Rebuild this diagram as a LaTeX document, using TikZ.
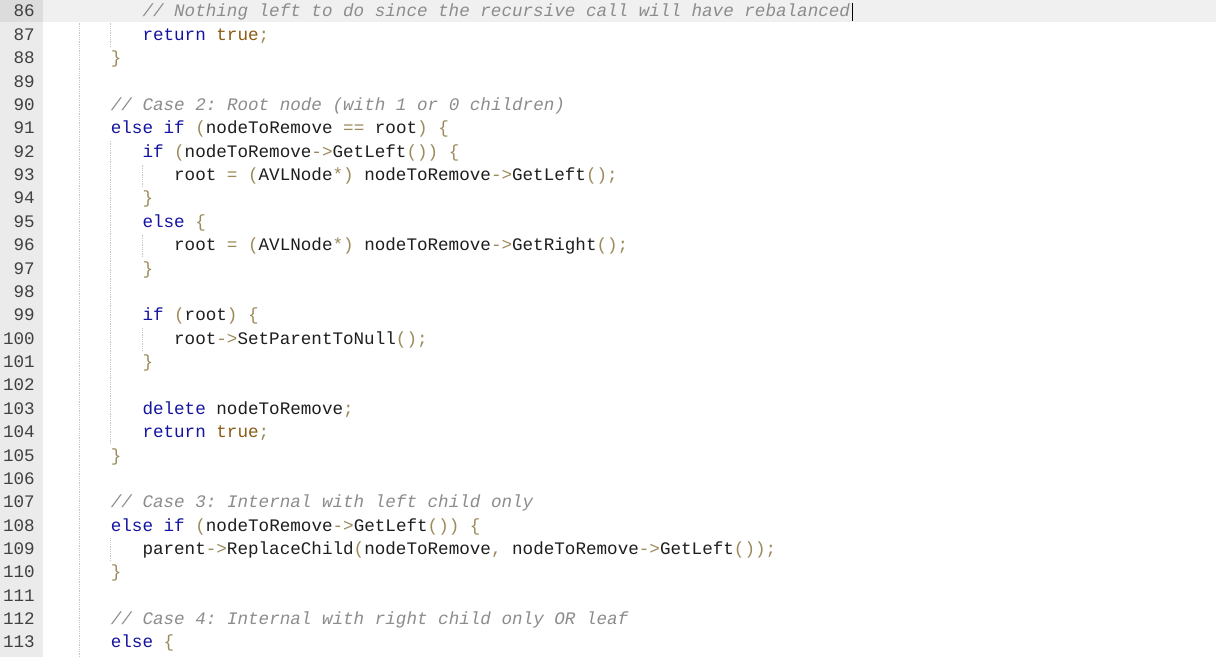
\documentclass[tikz,border=0pt]{standalone}
\usepackage{fontspec}
\newfontfamily\code{Liberation Mono}[WordSpace={1,0,0}]
\frenchspacing
\definecolor{kwc}{HTML}{1414A0}
\definecolor{tvc}{HTML}{8A5C14}
\definecolor{pnc}{HTML}{9C8A5A}
\definecolor{cmc}{HTML}{8C8C8C}
\definecolor{txc}{HTML}{1E1E1E}
\definecolor{gut}{HTML}{EBEBEB}
\definecolor{gutsel}{HTML}{DCDCDC}
\definecolor{linesel}{HTML}{F0F0F0}
\definecolor{guide}{HTML}{C8C8C8}
\newcommand\Kw[1]{\textcolor{kwc}{#1}}
\newcommand\Tv[1]{\textcolor{tvc}{#1}}
\newcommand\Pn[1]{\textcolor{pnc}{#1}}
\newcommand\Cm[1]{\textcolor{cmc}{\itshape #1}}
\tikzset{
  codeline/.style={anchor=base west,inner sep=0pt,font=\code\fontsize{17.6}{20}\selectfont\frenchspacing,text=txc},
  lnum/.style={anchor=base east,inner sep=0pt,font=\code\fontsize{17.6}{20}\selectfont,text=black!75},
  guideline/.style={guide,densely dotted,line width=0.8pt}
}
\newcommand\Y[1]{\fpeval{657-(17+(#1-86)*23.37)}}
\newcommand\Lx[1]{\fpeval{79+#1*31.65}}
\begin{document}
\begin{tikzpicture}[x=1pt,y=1pt]
\useasboundingbox (0,0) rectangle (1216,657);
\fill[white] (0,0) rectangle (1216,657);
\fill[gut] (0,0) rectangle (43,657);
\fill[linesel] (43,635) rectangle (1216,657);
\fill[gutsel] (0,635) rectangle (43,657);
% indent guides
\draw[guideline] (79,0) -- (79,635);
\draw[guideline] (110.6,\fpeval{657-23.37*2}) -- (110.6,635);
\draw[guideline] (110.6,\fpeval{657-23.37*19}) -- (110.6,\fpeval{657-23.37*6});
\draw[guideline] (110.6,\fpeval{657-23.37*24}) -- (110.6,\fpeval{657-23.37*23});
\draw[guideline] (142.3,\fpeval{657-23.37*8}) -- (142.3,\fpeval{657-23.37*7});
\draw[guideline] (142.3,\fpeval{657-23.37*11}) -- (142.3,\fpeval{657-23.37*10});
\draw[guideline] (142.3,\fpeval{657-23.37*15}) -- (142.3,\fpeval{657-23.37*14});
% line numbers
\foreach \n in {86,...,113} \node[lnum] (n\n) at (35,\Y{\n}) {\n};
% code
\node[codeline] (c86) at (\Lx{2},\Y{86}) {\Cm{// Nothing left to do since the recursive call will have rebalanced}};
\draw[black,line width=0.6pt] (852,\fpeval{\Y{86}-4}) -- (852,\fpeval{\Y{86}+14});
\node[codeline] (c87) at (\Lx{2},\Y{87}) {\Kw{return} \Tv{true}\Pn{;}};
\node[codeline] (c88) at (\Lx{1},\Y{88}) {\Pn{\}}};
\node[codeline] (c90) at (\Lx{1},\Y{90}) {\Cm{// Case 2: Root node (with 1 or 0 children)}};
\node[codeline] (c91) at (\Lx{1},\Y{91}) {\Kw{else} \Kw{if} \Pn{(}nodeToRemove \Pn{==} root\Pn{)} \Pn{\{}};
\node[codeline] (c92) at (\Lx{2},\Y{92}) {\Kw{if} \Pn{(}nodeToRemove\Pn{->}GetLeft\Pn{())} \Pn{\{}};
\node[codeline] (c93) at (\Lx{3},\Y{93}) {root \Pn{=} \Pn{(}AVLNode\Pn{*)} nodeToRemove\Pn{->}GetLeft\Pn{();}};
\node[codeline] (c94) at (\Lx{2},\Y{94}) {\Pn{\}}};
\node[codeline] (c95) at (\Lx{2},\Y{95}) {\Kw{else} \Pn{\{}};
\node[codeline] (c96) at (\Lx{3},\Y{96}) {root \Pn{=} \Pn{(}AVLNode\Pn{*)} nodeToRemove\Pn{->}GetRight\Pn{();}};
\node[codeline] (c97) at (\Lx{2},\Y{97}) {\Pn{\}}};
\node[codeline] (c99) at (\Lx{2},\Y{99}) {\Kw{if} \Pn{(}root\Pn{)} \Pn{\{}};
\node[codeline] (c100) at (\Lx{3},\Y{100}) {root\Pn{->}SetParentToNull\Pn{();}};
\node[codeline] (c101) at (\Lx{2},\Y{101}) {\Pn{\}}};
\node[codeline] (c103) at (\Lx{2},\Y{103}) {\Kw{delete} nodeToRemove\Pn{;}};
\node[codeline] (c104) at (\Lx{2},\Y{104}) {\Kw{return} \Tv{true}\Pn{;}};
\node[codeline] (c105) at (\Lx{1},\Y{105}) {\Pn{\}}};
\node[codeline] (c107) at (\Lx{1},\Y{107}) {\Cm{// Case 3: Internal with left child only}};
\node[codeline] (c108) at (\Lx{1},\Y{108}) {\Kw{else} \Kw{if} \Pn{(}nodeToRemove\Pn{->}GetLeft\Pn{())} \Pn{\{}};
\node[codeline] (c109) at (\Lx{2},\Y{109}) {parent\Pn{->}ReplaceChild\Pn{(}nodeToRemove\Pn{,} nodeToRemove\Pn{->}GetLeft\Pn{());}};
\node[codeline] (c110) at (\Lx{1},\Y{110}) {\Pn{\}}};
\node[codeline] (c112) at (\Lx{1},\Y{112}) {\Cm{// Case 4: Internal with right child only OR leaf}};
\node[codeline] (c113) at (\Lx{1},\Y{113}) {\Kw{else} \Pn{\{}};
\end{tikzpicture}
\end{document}
